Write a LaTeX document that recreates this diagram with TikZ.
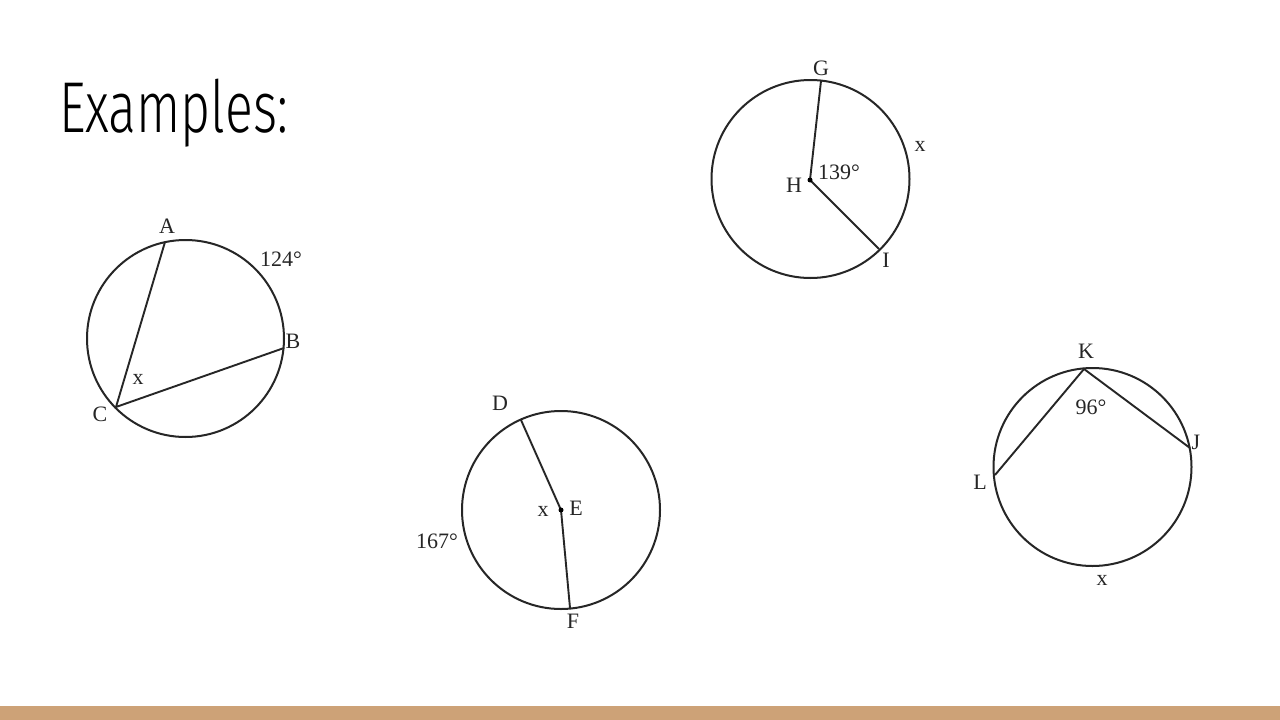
\documentclass[tikz,border=0pt]{standalone}
\usepackage{fontspec}
\setmainfont{Liberation Serif}
\newfontfamily\titlefont{Fira Sans Light}
\definecolor{band}{HTML}{CDA277}
\tikzset{
  circ/.style={draw=black!85, line width=2pt},
  seg/.style={draw=black!85, line width=1.9pt},
  lbl/.style={font=\fontsize{22}{22}\selectfont, text=black!85, inner sep=0pt},
  ctr/.style={fill=black, circle, inner sep=0pt, minimum size=5pt}
}
\begin{document}
\begin{tikzpicture}[x=1pt,y=-1pt]
\useasboundingbox (0,0) rectangle (1280,720);
\fill[white] (0,0) rectangle (1280,720);
\fill[band] (0,706) rectangle (1280,720);
\node[anchor=base west, inner sep=0pt] (title) at (59,132) {\scalebox{0.72}[1]{\titlefont\fontsize{72}{72}\selectfont Examples:}};

% circle 1
\coordinate (O1) at (185.5,338.5);
\draw[circ] (O1) circle (98.5);
\coordinate (A) at (165,242);
\coordinate (B) at (284,348);
\coordinate (C) at (116,407);
\draw[seg] (A) -- (C) -- (B);
\node[lbl] (lA) at (167,226) {A};
\node[lbl] (l124) at (281,259) {124°};
\node[lbl] (lB) at (293,341) {B};
\node[lbl] (lx1) at (138,379) {x};
\node[lbl] (lC) at (100,414) {C};

% circle 2
\coordinate (O2) at (810.5,179);
\draw[circ] (O2) circle (99);
\coordinate (G) at (821,81);
\coordinate (H) at (810,180);
\coordinate (I) at (879,249);
\draw[seg] (G) -- (H) -- (I);
\node[ctr] (dH) at (H) {};
\node[lbl] (lG) at (821,68) {G};
\node[lbl] (lx2) at (920,146) {x};
\node[lbl] (lH) at (794,185) {H};
\node[lbl] (l139) at (839,172) {139°};
\node[lbl] (lI) at (886,260) {I};

% circle 3
\coordinate (O3) at (561,510);
\draw[circ] (O3) circle (99);
\coordinate (D) at (521,420);
\coordinate (E) at (561,510);
\coordinate (F) at (570,608);
\draw[seg] (D) -- (E) -- (F);
\node[ctr] (dE) at (E) {};
\node[lbl] (lD) at (500,403) {D};
\node[lbl] (lx3) at (543,511) {x};
\node[lbl] (lE) at (576,508) {E};
\node[lbl] (l167) at (437,541) {167°};
\node[lbl] (lF) at (573,621) {F};

% circle 4
\coordinate (O4) at (1092.5,467);
\draw[circ] (O4) circle (99);
\coordinate (K) at (1084,369);
\coordinate (J) at (1190,448);
\coordinate (L) at (995,475);
\draw[seg] (L) -- (K) -- (J);
\node[lbl] (lK) at (1086,351) {K};
\node[lbl] (l96) at (1091,407) {96°};
\node[lbl] (lJ) at (1196,442) {J};
\node[lbl] (lL) at (980,482) {L};
\node[lbl] (lx4) at (1102,580) {x};
\end{tikzpicture}
\end{document}
